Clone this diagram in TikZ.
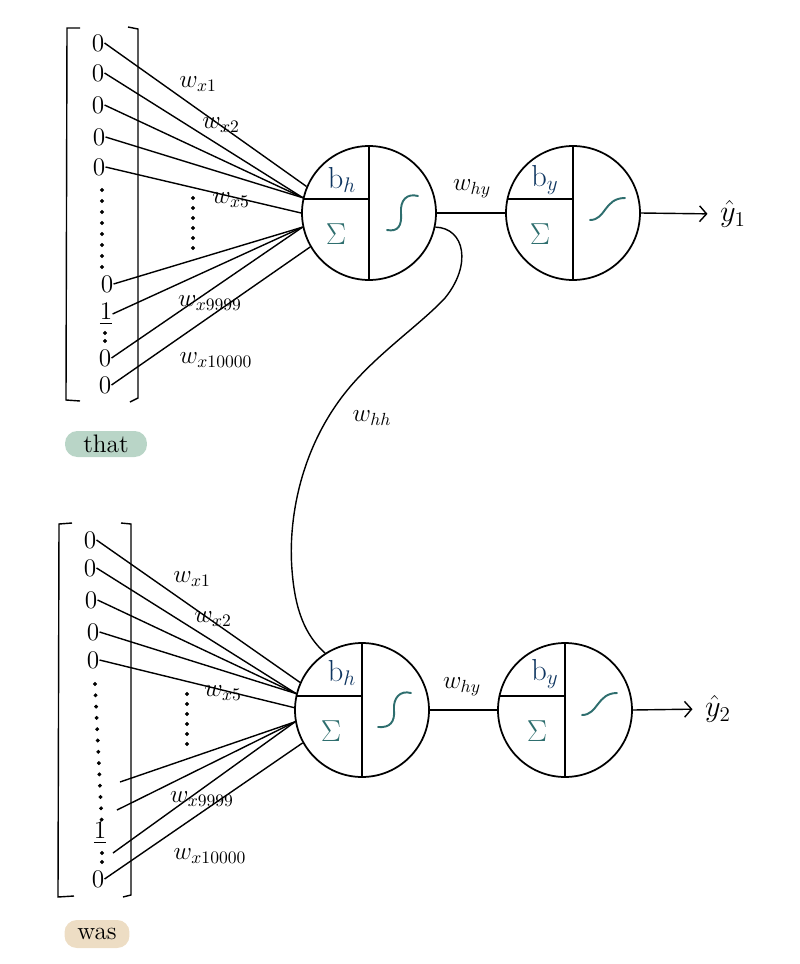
\documentclass[tikz,border=0pt]{standalone}
\usepackage{tikz}
\usepackage{amsmath, amssymb}
\usetikzlibrary{arrows.meta}

\definecolor{biasblue}{HTML}{0E3560}
\definecolor{sumteal}{HTML}{2E6E6E}
\definecolor{thatgreen}{HTML}{B9D5C7}
\definecolor{wasbeige}{HTML}{EDDDC4}

\tikzset{
  neuron/.style={draw, circle, minimum size=2.68cm, inner sep=0pt, line width=1pt},
  digit/.style={font=\Large, inner sep=0pt},
  weight/.style={font=\Large, inner sep=1pt},
  bias/.style={text=biasblue, font=\LARGE, inner sep=1pt},
  sumsign/.style={text=sumteal, font=\LARGE, inner sep=1pt},
  sig/.style={draw=sumteal, line width=1.1pt, line cap=round},
  word/.style={rounded corners=7pt, font=\Large, inner sep=0pt},
  wire/.style={line width=0.8pt},
  outarrow/.style={line width=0.8pt, -{Straight Barb[length=4pt, width=9pt]}},
  outlabel/.style={font=\LARGE, inner sep=1pt}
}

\begin{document}
\begin{tikzpicture}[x=0.02cm, y=-0.02cm]
\useasboundingbox (0,0) rectangle (800,964);

\draw[wire] (80,28) -- (67,28) -- (66,400) -- (80,401);
\draw[wire] (128,27) -- (138,29) -- (138,398) -- (130,402);
\draw[wire] (72,523) -- (59,524) -- (58,897) -- (74,896);
\draw[wire] (121,523) -- (131,524) -- (131,895) -- (123,897);

\node[digit] (t1) at (98,43) {0};
\node[digit] (t2) at (98,73) {0};
\node[digit] (t3) at (98,105) {0};
\node[digit] (t4) at (99,137) {0};
\node[digit] (t5) at (99,167) {0};
\node[digit] (t6) at (107,284) {0};
\node[digit] (t7) at (106,314) {$\underline{1}$};
\node[digit] (t8) at (105,358) {0};
\node[digit] (t9) at (105,385) {0};
\foreach \y in {190,201,...,268} \filldraw (102,\y) circle (0.9pt);
\filldraw (105,333) circle (0.9pt);
\filldraw (105,341) circle (0.9pt);
\foreach \y in {198,208,...,252} \filldraw (193,\y) circle (0.9pt);

\node[digit] (b1) at (90,540) {0};
\node[digit] (b2) at (90,568) {0};
\node[digit] (b3) at (91,600) {0};
\node[digit] (b4) at (93,632) {0};
\node[digit] (b5) at (93,660) {0};
\coordinate (b6) at (120,782);
\coordinate (b7) at (117,810);
\node[digit] (b8) at (100,833) {$\underline{1}$};
\coordinate (b9) at (113,853);
\node[digit] (b10) at (98,879) {0};
\foreach \i in {0,...,12} \filldraw ({95+0.55*\i},{684+11.3*\i}) circle (0.9pt);
\filldraw (102,853) circle (0.9pt);
\filldraw (102,862) circle (0.9pt);
\foreach \y in {694,704,...,746} \filldraw (187,\y) circle (0.9pt);

\node[neuron] (h1) at (369,213) {};
\node[neuron] (y1) at (573,213) {};
\node[neuron] (h2) at (362,710) {};
\node[neuron] (y2) at (565,710) {};
\foreach \n in {h1,y1,h2,y2} {
  \draw[line width=1pt] (\n.north) -- (\n.south);
  \draw[line width=1pt] (\n.168) -- (\n.168 -| \n.center);
}

\node[bias] (bh1) at (342,180) {b$_h$};
\node[sumsign] (s1) at (336,234) {$\Sigma$};
\draw[sig] (387,230) .. controls (398,232) and (402,226) .. (401,213) .. controls (400,200) and (407,193) .. (418,196);
\node[bias] (by1) at (545,180) {b$_y$};
\node[sumsign] (s2) at (540,234) {$\Sigma$};
\draw[sig] (590,220) .. controls (606,220) and (604,198) .. (625,198);

\node[bias] (bh2) at (342,673) {b$_h$};
\node[sumsign] (s3) at (331,731) {$\Sigma$};
\draw[sig] (378,727) .. controls (390,728) and (395,722) .. (394,710) .. controls (393,698) and (400,690) .. (411,693);
\node[bias] (by2) at (545,674) {b$_y$};
\node[sumsign] (s4) at (537,731) {$\Sigma$};
\draw[sig] (582,715) .. controls (598,715) and (597,693) .. (617,693);

\draw[wire] (t1.east) -- (h1.157);
\draw[wire] (t2.east) -- (h1.167);
\draw[wire] (t3.east) -- (h1.167);
\draw[wire] (t4.east) -- (h1.167);
\draw[wire] (t5.east) -- (h1.180);
\draw[wire] (t6.east) -- (h1.192);
\draw[wire] (t7.east) -- (h1.192);
\draw[wire] (t8.east) -- (h1.192);
\draw[wire] (t9.east) -- (h1.210);

\draw[wire] (b1.east) -- (h2.156);
\draw[wire] (b2.east) -- (h2.166);
\draw[wire] (b3.east) -- (h2.166);
\draw[wire] (b4.east) -- (h2.166);
\draw[wire] (b5.east) -- (h2.178);
\draw[wire] (b6) -- (h2.190);
\draw[wire] (b7) -- (h2.190);
\draw[wire] (b9) -- (h2.190);
\draw[wire] (b10.east) -- (h2.209);

\node[weight] (wa1) at (198,84) {$w_{x1}$};
\node[weight] (wa2) at (221,125) {$w_{x2}$};
\node[weight] (wa5) at (231,200) {$w_{x5}$};
\node[weight] (wa9) at (210,303) {$w_{x9999}$};
\node[weight] (wa10) at (216,360) {$w_{x10000}$};
\node[weight] (wb1) at (192,579) {$w_{x1}$};
\node[weight] (wb2) at (213,619) {$w_{x2}$};
\node[weight] (wb5) at (223,693) {$w_{x5}$};
\node[weight] (wb9) at (202,799) {$w_{x9999}$};
\node[weight] (wb10) at (210,856) {$w_{x10000}$};

\draw[wire] (h1.east) -- (y1.west);
\node[weight] (why1) at (472,189) {$w_{hy}$};
\draw[wire] (h2.east) -- (y2.west);
\node[weight] (why2) at (462,687) {$w_{hy}$};

\node[outlabel] (yhat1) at (733,214) {$\hat{y}_1$};
\draw[outarrow, shorten >=6pt] (y1.east) -- (yhat1.west);
\node[outlabel] (yhat2) at (718,709) {$\hat{y}_2$};
\draw[outarrow, shorten >=6pt] (y2.east) -- (yhat2.west);

\draw[wire] (h1.-12) .. controls (465,228) and (472,265) .. (445,298) .. controls (420,325) and (375,355) .. (345,393) .. controls (300,450) and (288,520) .. (292,570) .. controls (295,610) and (305,635) .. (h2.123);
\node[weight] (whh) at (372,418) {$w_{hh}$};

\node[word, fill=thatgreen, minimum width=1.64cm, minimum height=0.52cm] (that) at (106,444) {that};
\node[word, fill=wasbeige, minimum width=1.3cm, minimum height=0.56cm] (was) at (97,934) {was};
\end{tikzpicture}
\end{document}
